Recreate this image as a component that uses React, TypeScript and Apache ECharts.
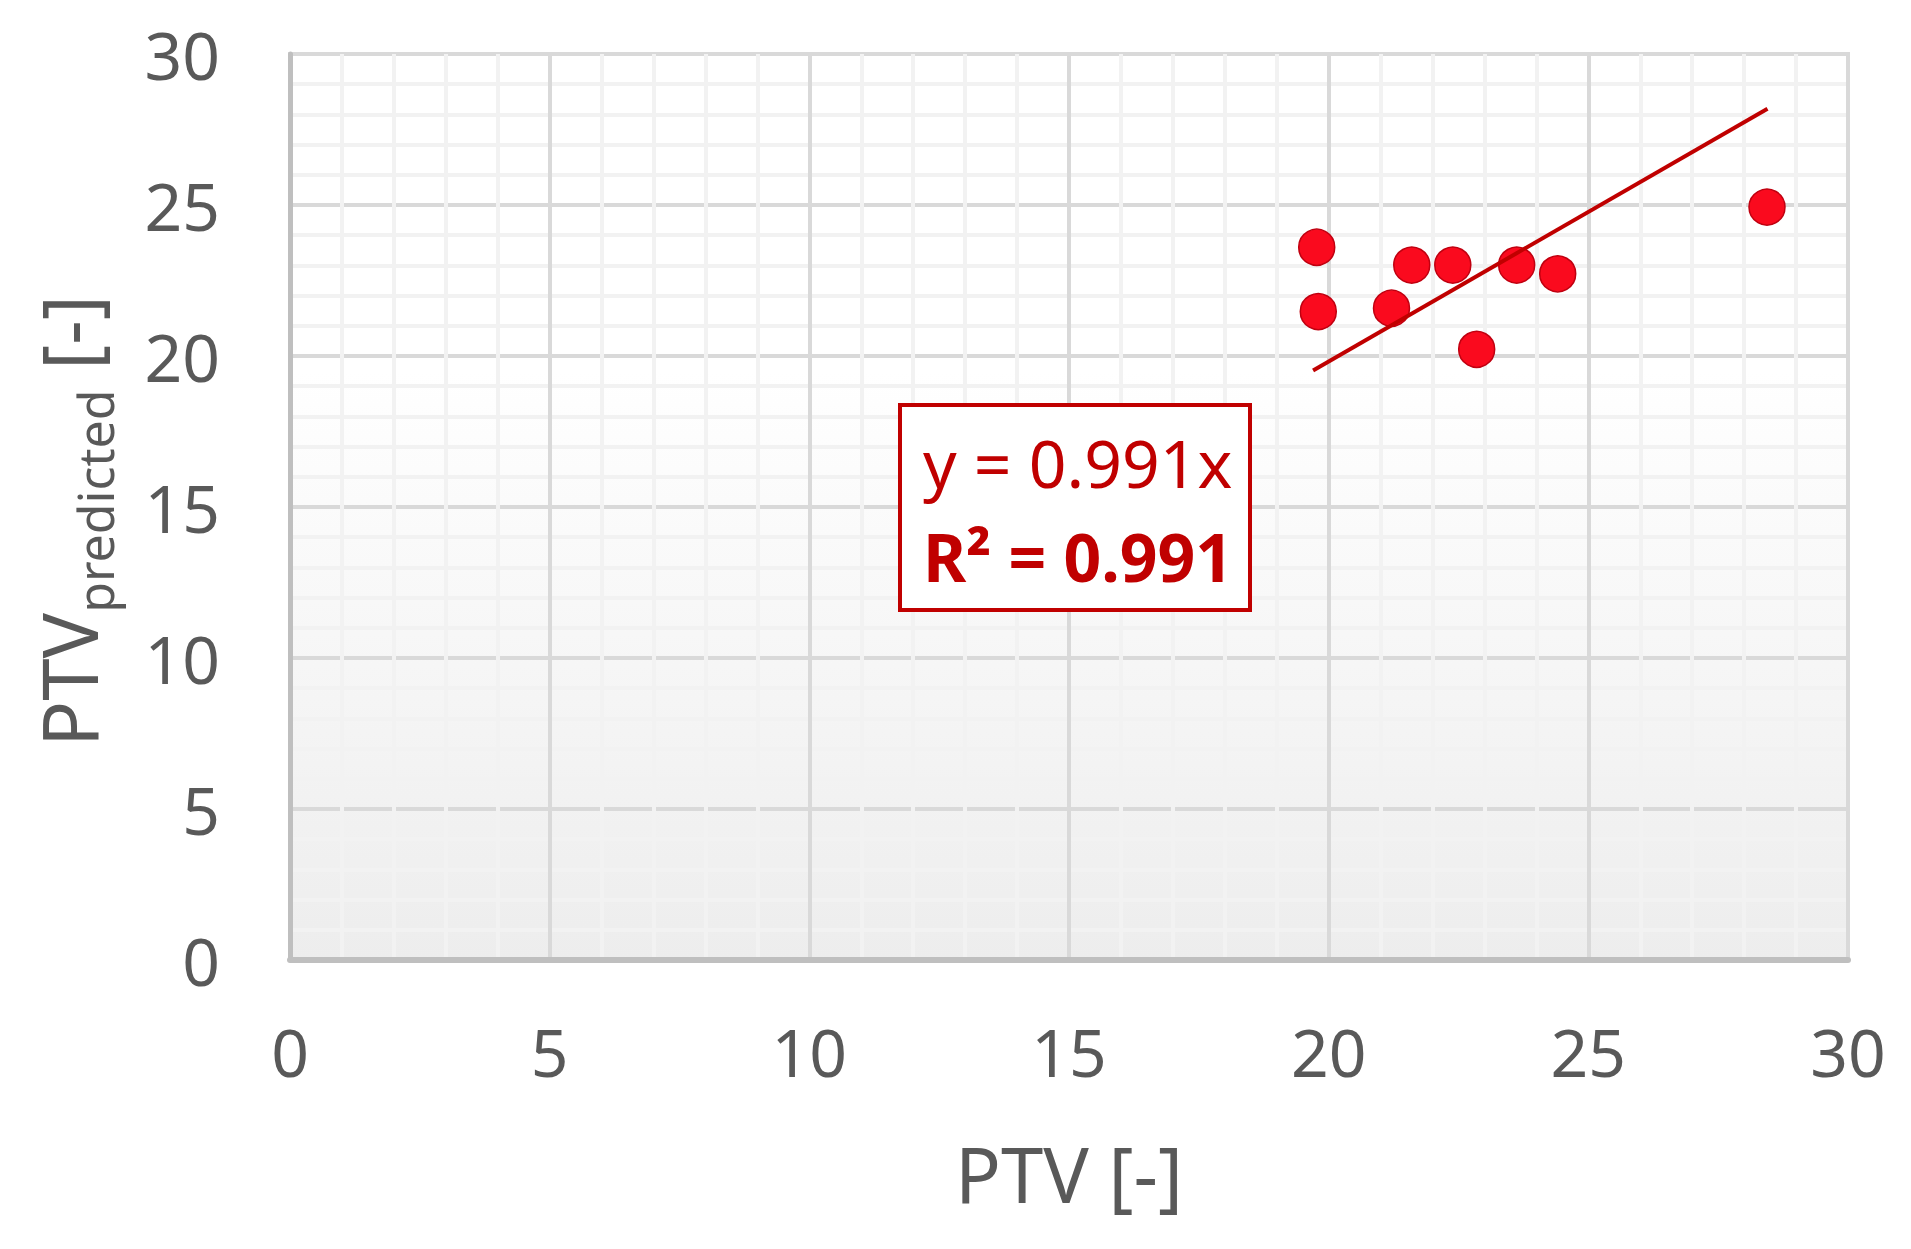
import React, { useEffect, useRef } from "react";
import * as echarts from "echarts";

const ptvMeasured = [19.77, 19.8, 21.21, 21.6, 22.39, 22.85, 23.62, 24.41, 28.44];
const ptvPredicted = [23.6, 21.47, 21.58, 23.01, 23.01, 20.22, 23.01, 22.72, 24.93];

// Linear trend line (through origin) endpoints
const trendX = [19.7, 28.45];
const trendY = [19.52, 28.19];

const equationText = "y = 0.991x";
const r2Text = "R\u00B2 = 0.991";
const xAxisTitle = "PTV [-]";

const FONT = "'Noto Sans', 'Open Sans', sans-serif";
const GREY = "#595959";
const RED = "#C00000";

export default function App() {
  const ref = useRef<HTMLDivElement>(null);

  useEffect(() => {
    if (!ref.current) return;
    const chart = echarts.init(ref.current, undefined, { renderer: "svg" });
    const scatterData = ptvMeasured.map((x, i) => [x, ptvPredicted[i]]);
    const trendData = trendX.map((x, i) => [x, trendY[i]]);

    chart.setOption({
      animation: false,
      backgroundColor: "#FFFFFF",
      textStyle: { fontFamily: FONT },
      grid: {
        left: 290,
        right: 63,
        top: 54,
        bottom: 289,
        show: true,
        borderColor: "#D9D9D9",
        borderWidth: 4,
        backgroundColor: {
          type: "linear",
          x: 0,
          y: 0,
          x2: 0,
          y2: 1,
          colorStops: [
            { offset: 0, color: "#FFFFFF" },
            { offset: 0.35, color: "#FFFFFF" },
            { offset: 1, color: "#EDEDED" },
          ],
        },
      },
      xAxis: {
        type: "value",
        min: 0,
        max: 30,
        interval: 5,
        name: xAxisTitle,
        nameLocation: "middle",
        nameGap: 175,
        nameTextStyle: { fontSize: 76, color: GREY, fontFamily: FONT },
        axisLine: { show: true, onZero: false, lineStyle: { color: "#BFBFBF", width: 6 } },
        axisTick: { show: false },
        axisLabel: { fontSize: 66, color: GREY, margin: 58, fontFamily: FONT },
        splitLine: { show: true, lineStyle: { color: "#D9D9D9", width: 4 } },
        minorTick: { show: false, splitNumber: 5 },
        minorSplitLine: { show: true, lineStyle: { color: "#F2F2F2", width: 4 } },
      },
      yAxis: {
        type: "value",
        min: 0,
        max: 30,
        interval: 5,
        name: "{a|PTV}{b|predicted}{c| [-]}",
        nameLocation: "middle",
        nameRotate: 90,
        nameGap: 177,
        nameTextStyle: {
          color: GREY,
          fontFamily: FONT,
          rich: {
            a: { fontSize: 76, lineHeight: 90, color: GREY, fontFamily: FONT },
            b: { fontSize: 50, lineHeight: 90, color: GREY, fontFamily: FONT, padding: [54, 0, 0, 0] },
            c: { fontSize: 76, lineHeight: 90, color: GREY, fontFamily: FONT, padding: [0, 28, 0, 0] },
          },
        },
        axisLine: { show: true, onZero: false, lineStyle: { color: "#BFBFBF", width: 5 } },
        axisTick: { show: false },
        axisLabel: { fontSize: 66, color: GREY, margin: 70, fontFamily: FONT },
        splitLine: { show: true, lineStyle: { color: "#D9D9D9", width: 4 } },
        minorTick: { show: false, splitNumber: 5 },
        minorSplitLine: { show: true, lineStyle: { color: "#F2F2F2", width: 4 } },
      },
      series: [
        {
          type: "scatter",
          data: scatterData,
          symbol: "circle",
          symbolSize: 36,
          itemStyle: { color: "#FA0A1E", borderColor: "#C00010", borderWidth: 1.5, opacity: 1 },
          z: 3,
        },
        {
          type: "line",
          data: trendData,
          showSymbol: false,
          symbol: "none",
          lineStyle: { color: RED, width: 4 },
          z: 4,
        },
      ],
      graphic: [
        {
          type: "rect",
          shape: { x: 900, y: 405, width: 350, height: 205 },
          style: { fill: "#FFFFFF", stroke: RED, lineWidth: 4 },
          z: 10,
        },
        {
          type: "text",
          x: 923,
          y: 462,
          z: 11,
          style: {
            text: equationText,
            fontSize: 66,
            fontFamily: FONT,
            fill: RED,
            align: "left",
            verticalAlign: "middle",
          },
        },
        {
          type: "text",
          x: 923,
          y: 556,
          z: 11,
          style: {
            text: r2Text,
            fontSize: 66,
            fontWeight: "bold",
            fontFamily: FONT,
            fill: RED,
            align: "left",
            verticalAlign: "middle",
          },
        },
      ],
    });

    return () => chart.dispose();
  }, []);

  return (
    <div
      ref={ref}
      style={{ position: "fixed", left: 0, top: 0, width: 1911, height: 1249 }}
    />
  );
}
